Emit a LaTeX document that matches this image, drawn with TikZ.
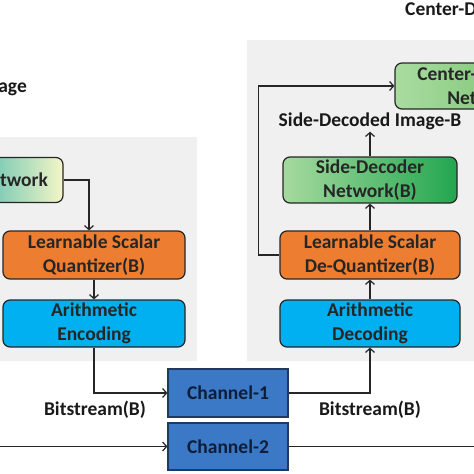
\documentclass[tikz,border=0pt]{standalone}
\usepackage{fontspec}
\setmainfont{Carlito}
\usepackage{xcolor}
\usepackage{tikz}
\usetikzlibrary{positioning, arrows.meta, calc}
\definecolor{msorange}{HTML}{ED7D31}
\definecolor{mscyan}{HTML}{00B0F0}
\definecolor{chblue}{HTML}{3B78C6}
\definecolor{chedge}{HTML}{1F3A5F}
\definecolor{chtext}{HTML}{0E1E38}
\definecolor{panelgrey}{HTML}{F0F0F0}
\definecolor{netteal}{HTML}{6CC5B5}
\definecolor{netyellow}{HTML}{F4F5C6}
\definecolor{sidelight}{HTML}{A6DA9E}
\definecolor{sidedark}{HTML}{22A650}
\definecolor{ctrlight}{HTML}{A9DCA0}
\definecolor{ctrdark}{HTML}{86C97E}

\begin{document}
\begin{tikzpicture}[
    x=1pt, y=-1pt,
    box/.style={rectangle, draw=black!85, line width=1.2pt, rounded corners=7pt,
                font=\fontsize{19.5}{24}\selectfont\bfseries, text=black!85,
                align=center, inner sep=0pt},
    quantbox/.style={box, fill=msorange, minimum width=182pt, minimum height=48pt},
    codebox/.style={box, fill=mscyan, minimum width=182pt, minimum height=47pt},
    chanbox/.style={box, rounded corners=0pt, draw=chedge, fill=chblue, text=chtext,
                    minimum width=120pt, minimum height=47pt},
    lbl/.style={font=\fontsize{19.5}{24}\selectfont\bfseries, text=black!90, inner sep=2pt},
    arrow/.style={-{Straight Barb[length=4pt, width=9pt]}, line width=1.2pt, black!85},
    line/.style={line width=1.2pt, black!85},
]

\useasboundingbox (0,0) rectangle (474,474);
\clip (0,0) rectangle (474,474);

% --- grey panels (encoder side / decoder side) ---
\fill[panelgrey] (-10,137) rectangle (197,361);
\fill[panelgrey] (247,40) rectangle (484,361);

% --- top texts ---
\node[lbl, anchor=west] (ctrtitle) at (403,9) {Center-D};
\node[lbl, anchor=east] (imgtitle) at (29,89) {age};

% --- encoder side ---
\node[box, left color=netteal, right color=netyellow,
      minimum width=78pt, minimum height=45pt] (net) at (24,180) {twork};
\node[quantbox] (quant) at (94,255) {Learnable Scalar\\Quantizer(B)};
\node[codebox] (enc) at (94,323.5) {Arithmetic\\Encoding};
\node[lbl] (bitsA) at (95,410) {Bitstream(B)};

% --- channels ---
\node[chanbox, minimum height=48pt] (ch1) at (228,393) {Channel-1};
\node[chanbox] (ch2) at (228,446.5) {Channel-2};
\coordinate (src) at (-5,446.5);
\coordinate (sink) at (480,446.5);

% --- decoder side ---
\node[codebox, minimum width=180pt] (dec) at (370,323.5) {Arithmetic\\Decoding};
\node[quantbox, minimum width=180pt] (deq) at (370,255) {Learnable Scalar\\De-Quantizer(B)};
\node[box, left color=sidelight, right color=sidedark,
      minimum width=174pt, minimum height=46pt] (side) at (370,180) {Side-Decoder\\Network(B)};
\node[lbl] (sideimg) at (370,121) {Side-Decoded Image-B};
\node[lbl] (bitsB) at (370,410) {Bitstream(B)};
\node[box, left color=ctrlight, right color=ctrdark, align=right,
      minimum width=104pt, minimum height=46pt] (center) at (447,86) {Center-\\Net};

% ============== arrows ==============
\draw[arrow] (net.east) -| ([xshift=-5pt]quant.north);
\draw[arrow] (quant) -- (enc);
\draw[arrow] (enc.south) |- (ch1.west);
\draw[arrow] (src) -- (ch2.west);
\draw[line] (ch2.east) -- (sink);
\draw[arrow] (ch1.east) -| (dec.south);
\draw[arrow] (dec) -- (deq);
\draw[arrow] (deq) -- (side);
\draw[arrow] (side) -- (sideimg);
\draw[arrow] (deq.west) -- ++(-21,0) |- (center.west);

\end{tikzpicture}
\end{document}
